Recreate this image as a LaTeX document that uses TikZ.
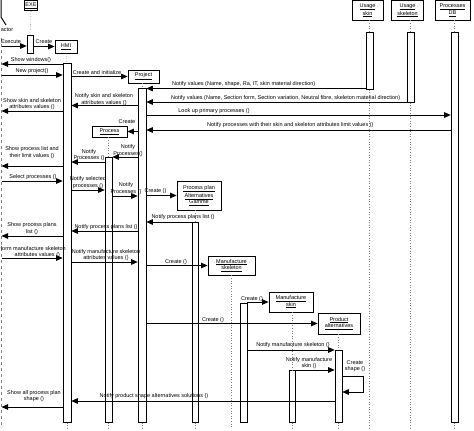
\documentclass[tikz,border=0pt]{standalone}
\usepackage{fontspec}
\setmainfont{Liberation Sans}
\usetikzlibrary{arrows.meta}

\tikzset{
  obj/.style={draw, line width=0.8pt, inner sep=0pt, align=center, font=\fontsize{5.5}{6.5}\selectfont},
  act/.style={draw, line width=0.6pt, fill=white, inner sep=0pt, anchor=north},
  life/.style={draw, gray, dotted, line width=0.6pt},
  msg/.style={draw, line width=0.8pt, -{Triangle[length=6.5pt,width=5.5pt]}},
  lbl/.style={inner sep=0pt, align=center, font=\fontsize{5.5}{6.5}\selectfont},
}

\begin{document}
\begin{tikzpicture}[x=1pt, y=-1pt]
\useasboundingbox (0,0) rectangle (474,431);

% objects
\node[lbl] (actor) at (7,30) {actor};
\path[draw, line width=1pt] (1,0) -- (1,17) -- (6,25);
\coordinate (actorL) at (1.5,38);
\coordinate (actorE) at (1.5,428);
\node[obj, minimum width=13, minimum height=10.5] (exe) at (31,5.5) {\underline{EXE}};
\node[obj, minimum width=22, minimum height=13] (hmi) at (66,46.5) {\underline{HMI}};
\node[obj, minimum width=31, minimum height=13] (project) at (143.5,76.5) {\underline{Project}};
\node[obj, minimum width=31, minimum height=19.5] (uskin) at (367.5,10.25) {\underline{Usage}\\\underline{skin}};
\node[obj, minimum width=32, minimum height=19.5] (uskel) at (407.5,10.25) {\underline{Usage}\\\underline{skeleton}};
\node[obj, minimum width=35, minimum height=19.5] (procdb) at (452.5,10.25) {\underline{Processes}\\\underline{DB}};
\node[obj, minimum width=35, minimum height=11] (process) at (109.5,131.5) {\underline{Process}};
\node[obj, minimum width=44, minimum height=29] (gamme) at (199,195.5) {\underline{Process plan}\\\underline{Alternatives}\\\underline{Gamme}};
\node[obj, minimum width=47, minimum height=19] (mskel) at (231.5,265.5) {\underline{Manufacture}\\\underline{skeleton}};
\node[obj, minimum width=44, minimum height=20] (mskin) at (291,302) {\underline{Manufacture}\\\underline{skin}};
\node[obj, minimum width=42, minimum height=21] (prodalt) at (339,323.5) {\underline{Product}\\\underline{alternatives}};

% activations
\node[act, minimum width=6, minimum height=18] (exeA) at (30,35) {};
\node[act, minimum width=8, minimum height=359] (hmiA) at (67,63) {};
\node[act, minimum width=8, minimum height=334] (projA) at (142,88) {};
\node[act, minimum width=7, minimum height=57] (uskinA) at (369.5,32) {};
\node[act, minimum width=7, minimum height=70] (uskelA) at (410.5,32) {};
\node[act, minimum width=7, minimum height=390] (procdbA) at (454.5,32) {};
\node[act, minimum width=7, minimum height=265] (processA) at (108.5,157) {};
\node[act, minimum width=6, minimum height=200] (gammeA) at (195,222) {};
\node[act, minimum width=7, minimum height=119] (mskelA) at (243.5,303) {};
\node[act, minimum width=6, minimum height=52] (mskinA) at (292,370) {};
\node[act, minimum width=7, minimum height=72] (prodA) at (338.5,350) {};

% lifelines
\path[draw, gray, dashed, line width=1.2pt] (actorL) -- (actorE);
\path[life] (exe.south) -- (exeA.north);
\path[life] (hmi.south) -- (hmiA.north);
\path[life] (hmiA.south) -- ++(0,6);
\path[life] (project.south -| projA) -- (projA.north);
\path[life] (projA.south) -- ++(0,6);
\path[life] (uskin.south -| uskinA) -- (uskinA.north);
\path[life] (uskinA.south) -- ++(0,339);
\path[life] (uskel.south -| uskelA) -- (uskelA.north);
\path[life] (uskelA.south) -- ++(0,326);
\path[life] (procdb.south -| procdbA) -- (procdbA.north);
\path[life] (procdbA.south) -- ++(0,6);
\path[life] (process.south -| processA) -- (processA.north);
\path[life] (processA.south) -- ++(0,6);
\path[life] (gamme.south -| gammeA) -- (gammeA.north);
\path[life] (gammeA.south) -- ++(0,6);
\path[life] (mskel.south) -- ++(0,153);
\path[life] (mskin.south -| mskinA) -- (mskinA.north);
\path[life] (mskinA.south) -- ++(0,6);
\path[life] (prodalt.south -| prodA) -- (prodA.north);
\path[life] (prodA.south) -- ++(0,6);

% messages
\path[msg] (actorL |- 0,46) -- (exeA.west |- 0,46);
\path[msg] (exeA.east |- hmi.west) -- (hmi.west);
\path[msg] (hmiA.west |- 0,64) -- (actorL |- 0,64);
\path[msg] (actorL |- 0,75) -- (hmiA.west |- 0,75);
\path[msg] (hmiA.east |- project.west) -- (project.west);
\path[msg] (uskinA.west |- 0,88.5) -- (projA.east |- 0,88.5);
\path[msg] (uskelA.west |- 0,102) -- (projA.east |- 0,102);
\path[msg] (projA.west |- 0,105.5) -- (hmiA.east |- 0,105.5);
\path[msg] (hmiA.west |- 0,111) -- (actorL |- 0,111);
\path[msg] (projA.east |- 0,115) -- (procdbA.west |- 0,115);
\path[msg] (procdbA.west |- 0,130) -- (projA.east |- 0,130);
\path[msg] (projA.west |- process.east) -- (process.east);
\path[msg] (projA.west |- 0,157) -- (processA.east |- 0,157);
\path[msg] (processA.west |- 0,162) -- (hmiA.east |- 0,162);
\path[msg] (hmiA.west |- 0,166) -- (actorL |- 0,166);
\path[msg] (actorL |- 0,181) -- (hmiA.west |- 0,181);
\path[msg] (hmiA.east |- 0,190) -- (processA.west |- 0,190);
\path[msg] (processA.east |- 0,196) -- (projA.west |- 0,196);
\path[msg] (projA.east |- gamme.west) -- (gamme.west);
\path[msg] (gammeA.west |- 0,222) -- (projA.east |- 0,222);
\path[msg] (projA.west |- 0,231) -- (hmiA.east |- 0,231);
\path[msg] (hmiA.west |- 0,236) -- (actorL |- 0,236);
\path[msg] (actorL |- 0,258) -- (hmiA.west |- 0,258);
\path[msg] (hmiA.east |- 0,262) -- (projA.west |- 0,262);
\path[msg] (projA.east |- mskel.west) -- (mskel.west);
\path[msg] (mskelA.east |- mskin.west) -- (mskin.west);
\path[msg] (projA.east |- prodalt.west) -- (prodalt.west);
\path[msg] (mskelA.east |- 0,350) -- (prodA.west |- 0,350);
\path[msg] (mskinA.east |- 0,370) -- (prodA.west |- 0,370);
\path[msg] (prodA.east |- 0,376) -- (363,376) -- (363,392) -- (prodA.east |- 0,392);
\path[msg] (prodA.west |- 0,401) -- (hmiA.east |- 0,401);
\path[msg] (hmiA.west |- 0,407) -- (actorL |- 0,407);

% labels
\node[lbl] (t1) at (11,42) {Execute};
\node[lbl] (t2) at (44,42) {Create};
\node[lbl] (t3) at (31,60) {Show windows()};
\node[lbl] (t4) at (32,71) {New project()};
\node[lbl] (t5) at (97,72.5) {Create and initialize};
\node[lbl, anchor=west] (t6) at (172,84) {Notify values (Name, shape, Ra, IT, skin material direction)};
\node[lbl, anchor=west] (t7) at (171,98) {Notify values (Name, Section form, Section variation, Neutral fibre, skeleton material direction)};
\node[lbl] (t8) at (104,99.5) {Notify skin and skeleton\\attributes values ()};
\node[lbl] (t9) at (32,104) {Show skin and skeleton\\attributes values ()};
\node[lbl] (t10) at (214,111) {Look up primary processes ()};
\node[lbl, anchor=west] (t11) at (207,125.5) {Notify processes with their skin and skeleton attributes limit values ()};
\node[lbl] (t12) at (127,122) {Create};
\node[lbl] (t13) at (32,152.5) {Show process list and\\their limit values ()};
\node[lbl] (t14) at (128,150.5) {Notify\\Processes()};
\node[lbl] (t15) at (89,155) {Notify\\Processes ()};
\node[lbl] (t16) at (33,177.5) {Select processes ()};
\node[lbl] (t17) at (88,182.5) {Notify selected\\processes ()};
\node[lbl] (t18) at (126,188.5) {Notify\\Processes ()};
\node[lbl] (t19) at (155.5,191) {Create ()};
\node[lbl] (t20) at (183,217.5) {Notify process plans list ()};
\node[lbl] (t21) at (106,227.5) {Notify process plans list ()};
\node[lbl] (t22) at (32,228.5) {Show process plans\\list ()};
\node[lbl, align=left, anchor=west] (t23) at (0.5,252) {form manufacture skeleton\\\hspace*{14pt}attributes values ()};
\node[lbl] (t24) at (106,255) {Notify manufacture skeleton\\attributes values ()};
\node[lbl] (t25) at (176,262.5) {Create ()};
\node[lbl] (t26) at (252,299) {Create ()};
\node[lbl] (t27) at (213,320) {Create ()};
\node[lbl] (t28) at (293,345.5) {Notify manufacture skeleton ()};
\node[lbl] (t29) at (309,363) {Notify manufacture\\skin ()};
\node[lbl] (t30) at (355,366) {Create\\shape ()};
\node[lbl] (t31) at (154,396.5) {Notify product shape alternatives solutions ()};
\node[lbl] (t32) at (34,396) {Show all process plan\\shape ()};
\end{tikzpicture}
\end{document}
